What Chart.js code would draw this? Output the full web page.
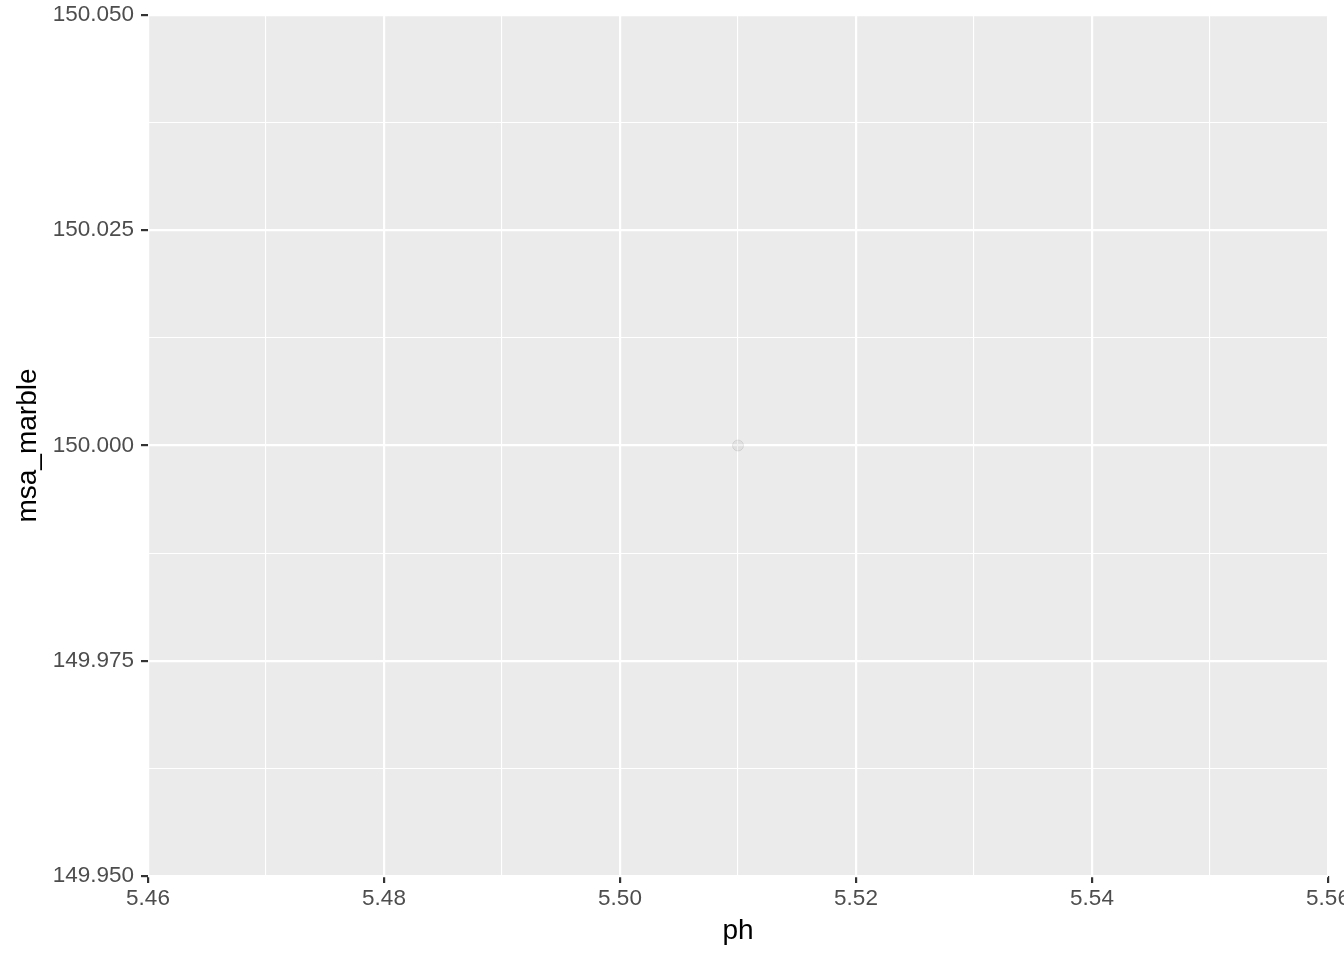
<!DOCTYPE html>
<html>
<head>
<meta charset="utf-8">
<script src="https://cdn.jsdelivr.net/npm/chart.js@4/dist/chart.umd.min.js"></script>
<style>
  html, body { margin: 0; padding: 0; background: #ffffff; }
  #wrap { width: 1344px; height: 960px; }
</style>
</head>
<body>
<div id="wrap"><canvas id="myChart" width="1344" height="960"></canvas></div>
<script>
// data
var ph = [5.51];
var msaMarble = [150.0];

// axis ranges and labels
var xTickLabels = ["5.46", "5.48", "5.50", "5.52", "5.54", "5.56"];
var yTickLabels = ["149.950", "149.975", "150.000", "150.025", "150.050"];
var xMin = 5.46, xMax = 5.56, xStep = 0.01;
var yMin = 149.95, yMax = 150.05, yStep = 0.0125;

var points = ph.map(function (x, i) { return { x: x, y: msaMarble[i] }; });

// major ticks get a label, minor ticks only a thinner grid line
function xIndex(v) { return Math.round((v - xMin) / xStep); }
function yIndex(v) { return Math.round((v - yMin) / yStep); }

var tickFont = { family: "'Liberation Sans', Arial, sans-serif", size: 22.5 };
var titleFont = { family: "'Liberation Sans', Arial, sans-serif", size: 28 };

// grey panel behind the grid
var panelBg = {
    id: 'panelBg',
    beforeDraw: function (chart) {
        var a = chart.chartArea, c = chart.ctx;
        c.save();
        c.fillStyle = '#EBEBEB';
        c.fillRect(a.left, a.top, a.right - a.left, a.bottom - a.top);
        c.restore();
    }
};

var ctx = document.getElementById('myChart').getContext('2d');
var chart = new Chart(ctx, {
    type: 'scatter',
    data: {
        datasets: [{
            label: 'msa_marble',
            data: points,
            backgroundColor: 'rgba(0, 0, 0, 0.05)',
            borderColor: 'rgba(0, 0, 0, 0.08)',
            borderWidth: 1,
            pointRadius: 5.5
        }]
    },
    options: {
        responsive: false,
        animation: false,
        layout: { padding: 0 },
        plugins: {
            legend: { display: false },
            tooltip: { enabled: false }
        },
        scales: {
            x: {
                type: 'linear',
                min: xMin,
                max: xMax,
                afterFit: function (s) { s.height = 84; s.paddingRight = 16; },
                border: { display: false },
                grid: {
                    color: '#FFFFFF',
                    lineWidth: function (c) { return xIndex(c.tick.value) % 2 === 0 ? 2.2 : 1.1; },
                    tickColor: function (c) { return xIndex(c.tick.value) % 2 === 0 ? '#333333' : 'rgba(0,0,0,0)'; },
                    tickLength: 7,
                    tickWidth: 2.2
                },
                ticks: {
                    stepSize: xStep,
                    autoSkip: false,
                    maxRotation: 0,
                    padding: 2,
                    color: '#4D4D4D',
                    font: tickFont,
                    callback: function (v) {
                        var i = xIndex(v);
                        return i % 2 === 0 ? xTickLabels[i / 2] : '';
                    }
                },
                title: {
                    display: true,
                    text: 'ph',
                    color: '#000000',
                    font: titleFont,
                    padding: { top: 0, bottom: 12 }
                }
            },
            y: {
                type: 'linear',
                min: yMin,
                max: yMax,
                afterFit: function (s) { s.width = 148; s.paddingTop = 15; s.paddingBottom = 0; },
                border: { display: false },
                grid: {
                    color: '#FFFFFF',
                    lineWidth: function (c) { return yIndex(c.tick.value) % 2 === 0 ? 2.2 : 1.1; },
                    tickColor: function (c) { return yIndex(c.tick.value) % 2 === 0 ? '#333333' : 'rgba(0,0,0,0)'; },
                    tickLength: 7,
                    tickWidth: 2.2
                },
                ticks: {
                    stepSize: yStep,
                    autoSkip: false,
                    padding: 7,
                    color: '#4D4D4D',
                    font: tickFont,
                    callback: function (v) {
                        var i = yIndex(v);
                        return i % 2 === 0 ? yTickLabels[i / 2] : '';
                    }
                },
                title: {
                    display: true,
                    text: 'msa_marble',
                    color: '#000000',
                    font: titleFont,
                    padding: { top: 11, bottom: 0 }
                }
            }
        }
    },
    plugins: [panelBg]
});
</script>
</body>
</html>
